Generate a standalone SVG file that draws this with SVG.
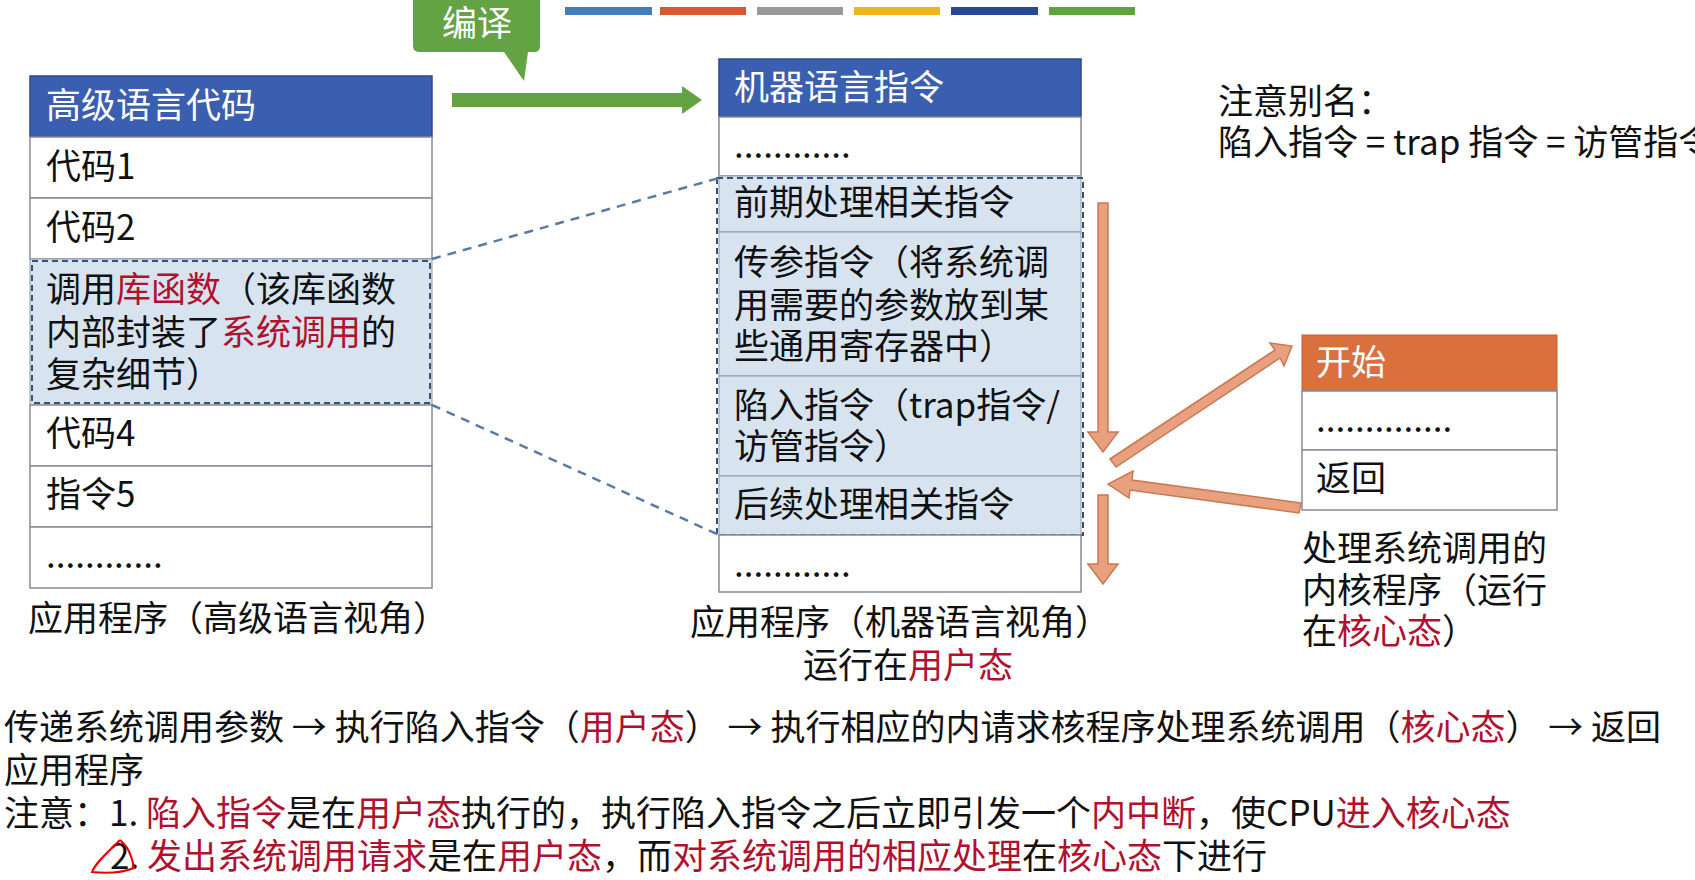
<svg xmlns="http://www.w3.org/2000/svg" width="1695" height="880" viewBox="0 0 1695 880">
<style>
text{font-family:"Noto Sans CJK SC","Liberation Sans",sans-serif;font-size:35px;fill:#111}
.h{fill:#fff}
.r{fill:#B0122E}
.cell{fill:#fff;stroke:#8a8a9a;stroke-width:1.5}
.hd{fill:#3B5FB0;stroke:#2c4a90;stroke-width:1.5}
.bl{fill:#D7E4F0;stroke:#8a9ab0;stroke-width:1}
.dash{fill:none;stroke:#3c5070;stroke-width:2;stroke-dasharray:6,4}
.con{stroke:#5a7aa8;stroke-width:2.5;stroke-dasharray:9,7;fill:none}
.oa{fill:#E8A07E;stroke:#C97850;stroke-width:1.5}
</style>
<rect x="0" y="0" width="1695" height="880" fill="#fff"/>
<g id="bars">
<rect x="565" y="7" width="87" height="8" fill="#3F7FC0"/>
<rect x="660" y="7" width="86" height="8" fill="#D75A2F"/>
<rect x="757" y="7" width="86" height="8" fill="#999"/>
<rect x="854" y="7" width="86" height="8" fill="#EFB520"/>
<rect x="951" y="7" width="87" height="8" fill="#27479A"/>
<rect x="1049" y="7" width="86" height="8" fill="#5EA43A"/>
</g>
<g id="compile">
<path d="M420,0H540V46Q540,52 534,52H528L524,81L504,52H420Q413,52 413,46V0Z" fill="#63A343"/>
<text x="442" y="36" class="h" font-size="34">编译</text>
</g>
<g id="left">
<rect x="30" y="76" width="402" height="61" class="hd"/>
<text x="46" y="118" class="h">高级语言代码</text>
<rect x="30" y="137" width="402" height="61" class="cell"/><text x="46" y="179">代码1</text>
<rect x="30" y="198" width="402" height="61" class="cell"/><text x="46" y="240">代码2</text>
<rect x="30" y="259" width="402" height="146" class="bl"/>
<rect x="32" y="261" width="398" height="142" class="dash"/>
<text x="46" y="302">调用<tspan class="r">库函数</tspan>（该库函数</text>
<text x="46" y="345">内部封装了<tspan class="r">系统调用</tspan>的</text>
<text x="46" y="387">复杂细节）</text>
<rect x="30" y="405" width="402" height="61" class="cell"/><text x="46" y="446">代码4</text>
<rect x="30" y="466" width="402" height="61" class="cell"/><text x="46" y="507">指令5</text>
<rect x="30" y="527" width="402" height="61" class="cell"/><text x="46" y="568">............</text>
<text x="28" y="631">应用程序（高级语言视角）</text>
</g>
<g id="middle">
<rect x="719" y="59" width="362" height="58" class="hd"/>
<text x="734" y="100" class="h">机器语言指令</text>
<rect x="719" y="117" width="362" height="59" class="cell"/><text x="734" y="158">............</text>
<rect x="719" y="176" width="362" height="56" class="bl"/><text x="734" y="215">前期处理相关指令</text>
<rect x="719" y="232" width="362" height="144" class="bl"/>
<text x="734" y="275">传参指令（将系统调</text>
<text x="734" y="318">用需要的参数放到某</text>
<text x="734" y="359">些通用寄存器中）</text>
<rect x="719" y="376" width="362" height="100" class="bl"/>
<text x="734" y="418">陷入指令（trap指令/</text>
<text x="734" y="459">访管指令）</text>
<rect x="719" y="476" width="362" height="59" class="bl"/><text x="734" y="517">后续处理相关指令</text>
<rect x="717" y="178" width="366" height="357" class="dash"/>
<rect x="719" y="535" width="362" height="57" class="cell"/><text x="734" y="577">............</text>
<text x="900" y="635" text-anchor="middle">应用程序（机器语言视角）</text>
<text x="908" y="678" text-anchor="middle">运行在<tspan class="r">用户态</tspan></text>
</g>
<g id="right">
<rect x="1302" y="335" width="255" height="56" fill="#D9703E" stroke="#c06030"/>
<text x="1316" y="375" class="h">开始</text>
<rect x="1302" y="391" width="255" height="59" class="cell"/><text x="1316" y="432">..............</text>
<rect x="1302" y="450" width="255" height="60" class="cell"/><text x="1316" y="491">返回</text>
<text x="1302" y="561">处理系统调用的</text>
<text x="1302" y="603">内核程序（运行</text>
<text x="1302" y="644">在<tspan class="r">核心态</tspan>）</text>
</g>
<g id="note">
<text x="1218" y="114">注意别名：</text>
<text x="1218" y="155">陷入指令 = trap 指令 = 访管指令</text>
</g>
<g id="connectors">
<path d="M452,100H684" stroke="#63A343" stroke-width="14" fill="none"/>
<path d="M682,86L702,100L682,114z" fill="#63A343"/>
<line x1="432" y1="259" x2="719" y2="178" class="con"/>
<line x1="432" y1="405" x2="719" y2="535" class="con"/>
<path d="M1098,203H1108V432H1118L1103,452L1088,432H1098Z" class="oa"/>
<path d="M1098,495H1108V564H1118L1103,584L1088,564H1098Z" class="oa"/>
<path d="M1110,459L1275,350L1270,343L1292,346L1284,366L1280,358L1116,467Z" class="oa"/>
<path d="M1301,503L1132,480L1133,471L1108,484L1129,498L1130,490L1299,513Z" class="oa"/>
</g>
<g id="bottom">
<text x="4" y="740">传递系统调用参数 → 执行陷入指令（<tspan class="r">用户态</tspan>） → 执行相应的内请求核程序处理系统调用（<tspan class="r">核心态</tspan>） → 返回</text>
<text x="4" y="783">应用程序</text>
<text x="4" y="826">注意：1. <tspan class="r">陷入指令</tspan>是在<tspan class="r">用户态</tspan>执行的，执行陷入指令之后立即引发一个<tspan class="r">内中断</tspan>，使CPU<tspan class="r">进入核心态</tspan></text>
<text x="110" y="869">2. <tspan class="r">发出系统调用请求</tspan>是在<tspan class="r">用户态</tspan>，而<tspan class="r">对系统调用的相应处理</tspan>在<tspan class="r">核心态</tspan>下进行</text>
<path d="M120,840C108,852 96,862 92,872C110,874 124,872 134,868C132,856 128,846 120,840" fill="none" stroke="#e00" stroke-width="2"/>
</g>
</svg>
